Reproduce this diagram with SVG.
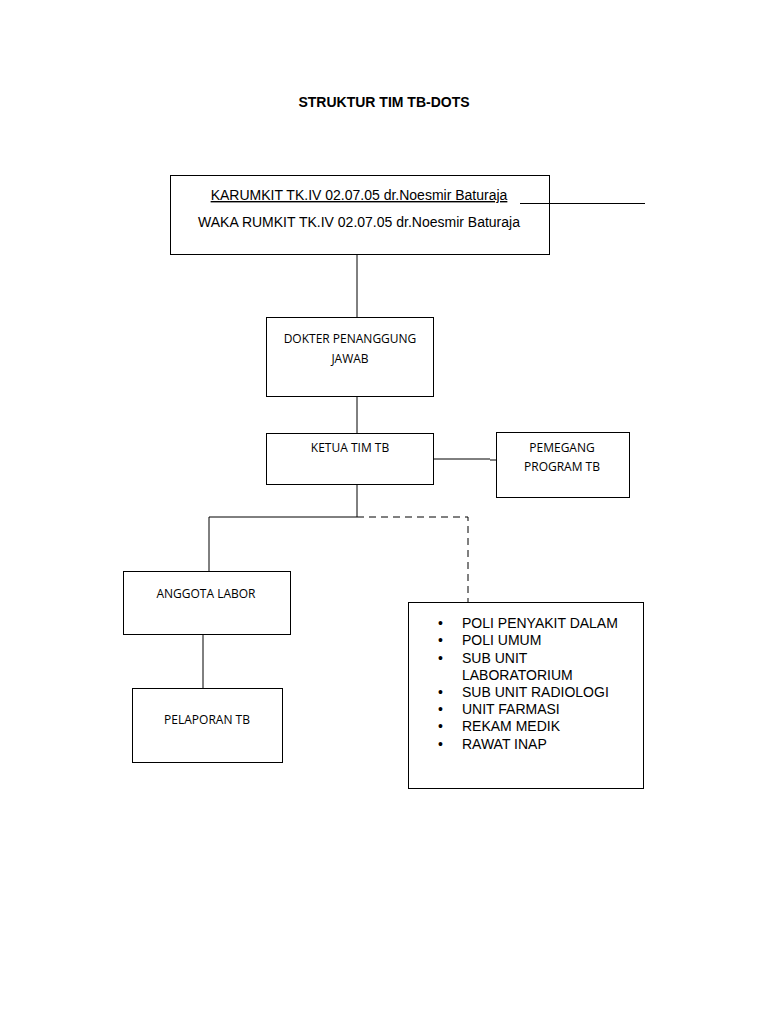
<svg xmlns="http://www.w3.org/2000/svg" width="768" height="1024" viewBox="0 0 768 1024">
<style>
rect{fill:#fff;stroke:#000;stroke-width:1}
.c{stroke:#000;stroke-width:1;fill:none}
.a{font-family:"Liberation Sans",Arial,sans-serif;font-size:14px}
.o{font-family:"Open Sans",sans-serif;font-size:12px}
</style>
<rect width="768" height="1024" style="stroke:none"/>
<text x="384" y="107" text-anchor="middle" font-family="Liberation Sans,Arial,sans-serif" font-size="14" font-weight="bold">STRUKTUR TIM TB-DOTS</text>
<g id="connectors">
<line class="c" x1="357" y1="255" x2="357" y2="317"/>
<line class="c" x1="357" y1="397" x2="357" y2="433"/>
<line class="c" x1="434" y1="459" x2="490" y2="459"/>
<line class="c" x1="490" y1="460" x2="496" y2="460"/>
<line class="c" x1="357" y1="484" x2="357" y2="517"/>
<line class="c" x1="209" y1="517" x2="357" y2="517"/>
<line class="c" x1="209" y1="517" x2="209" y2="571"/>
<path class="c" d="M357 517 H468 V602" stroke-dasharray="7,5"/>
<line class="c" x1="203" y1="634" x2="203" y2="688"/>
</g>
<g id="karumkit">
<rect x="170.5" y="175.5" width="379" height="79"/>
<text class="a" x="359" y="200" text-anchor="middle" font-size="15" text-decoration="underline">KARUMKIT TK.IV 02.07.05 dr.Noesmir Baturaja</text>
<text class="a" x="359" y="227" text-anchor="middle">WAKA RUMKIT TK.IV 02.07.05 dr.Noesmir Baturaja</text>
<line class="c" x1="520" y1="203.5" x2="645" y2="203.5"/>
</g>
<g id="dokter">
<rect x="266.5" y="317.5" width="167" height="79"/>
<text class="o" x="350" y="343" text-anchor="middle">DOKTER PENANGGUNG</text>
<text class="o" x="350" y="363" text-anchor="middle">JAWAB</text>
</g>
<g id="ketua">
<rect x="266.5" y="433.5" width="167" height="51"/>
<text class="o" x="350" y="452" text-anchor="middle">KETUA TIM TB</text>
</g>
<g id="pemegang">
<rect x="496.5" y="432.5" width="133" height="65"/>
<text class="o" x="562" y="452" text-anchor="middle">PEMEGANG</text>
<text class="o" x="562" y="471" text-anchor="middle">PROGRAM TB</text>
</g>
<g id="anggota">
<rect x="123.5" y="571.5" width="167" height="63"/>
<text class="o" x="206" y="598" text-anchor="middle">ANGGOTA LABOR</text>
</g>
<g id="pelaporan">
<rect x="132.5" y="688.5" width="150" height="74"/>
<text class="o" x="207" y="724" text-anchor="middle">PELAPORAN TB</text>
</g>
<g id="unit">
<rect x="408.5" y="602.5" width="235" height="186"/>
<g class="a">
<text x="438" y="628">•</text><text x="462" y="628">POLI PENYAKIT DALAM</text>
<text x="438" y="645">•</text><text x="462" y="645">POLI UMUM</text>
<text x="438" y="663">•</text><text x="462" y="663">SUB UNIT</text>
<text x="462" y="680">LABORATORIUM</text>
<text x="438" y="697">•</text><text x="462" y="697">SUB UNIT RADIOLOGI</text>
<text x="438" y="714">•</text><text x="462" y="714">UNIT FARMASI</text>
<text x="438" y="731">•</text><text x="462" y="731">REKAM MEDIK</text>
<text x="438" y="749">•</text><text x="462" y="749">RAWAT INAP</text>
</g>
</g>
</svg>
